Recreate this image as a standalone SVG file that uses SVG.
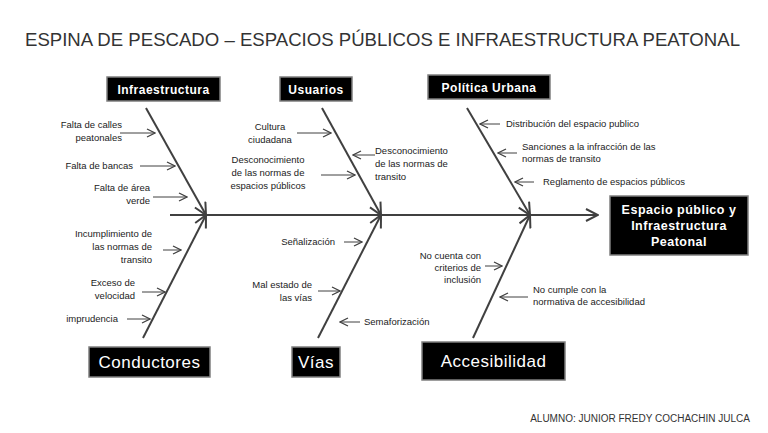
<svg xmlns="http://www.w3.org/2000/svg" width="768" height="433" viewBox="0 0 768 433">
<defs>
<marker id="a" markerWidth="10" markerHeight="10" refX="9" refY="5" orient="auto" markerUnits="userSpaceOnUse"><path d="M1,1 L9,5 L1,9" fill="none" stroke="#404040" stroke-width="1.3"/></marker>
<marker id="b" markerWidth="14" markerHeight="14" refX="13" refY="7" orient="auto" markerUnits="userSpaceOnUse"><path d="M1,1 L13,7 L1,13" fill="none" stroke="#404040" stroke-width="2"/></marker>
</defs>
<style>
.bone{stroke:#404040;stroke-width:2;fill:none}
.s{stroke:#404040;stroke-width:1;fill:none;marker-end:url(#a)}
.box{fill:#000;stroke:#7f7f7f;stroke-width:1.5}
.h{font-family:"Liberation Sans",sans-serif;fill:#fff;font-weight:bold;text-anchor:middle;letter-spacing:0.5px}
.h2{font-family:"Liberation Sans",sans-serif;fill:#fff;text-anchor:middle;letter-spacing:0.5px}
.t{font-family:"Liberation Sans",sans-serif;font-size:9.5px;fill:#222}
.r{text-anchor:end}
</style>
<rect width="768" height="433" fill="#fff"/>
<text x="25" y="46" font-family="Liberation Sans,sans-serif" font-size="19" fill="#333" textLength="715" lengthAdjust="spacingAndGlyphs">ESPINA DE PESCADO – ESPACIOS PÚBLICOS E INFRAESTRUCTURA PEATONAL</text>
<text x="750" y="422" text-anchor="end" font-family="Liberation Sans,sans-serif" font-size="10" fill="#333">ALUMNO: JUNIOR FREDY COCHACHIN JULCA</text>
<g id="connectors">
<line x1="170" y1="215" x2="598" y2="215" class="bone" style="marker-end:url(#b)"/>
<line x1="146" y1="108" x2="206" y2="215" class="bone" style="marker-end:url(#b)"/>
<line x1="322" y1="108" x2="381" y2="215" class="bone" style="marker-end:url(#b)"/>
<line x1="467" y1="108" x2="530" y2="215" class="bone" style="marker-end:url(#b)"/>
<line x1="143" y1="338" x2="206" y2="215" class="bone" style="marker-end:url(#b)"/>
<line x1="318" y1="338" x2="381" y2="215" class="bone" style="marker-end:url(#b)"/>
<line x1="473" y1="338" x2="530" y2="215" class="bone" style="marker-end:url(#b)"/>
<line x1="120" y1="133" x2="155" y2="133" class="s"/>
<line x1="140" y1="166" x2="175" y2="166" class="s"/>
<line x1="153" y1="197" x2="187" y2="197" class="s"/>
<line x1="163" y1="250" x2="181" y2="250" class="s"/>
<line x1="142" y1="292" x2="165" y2="292" class="s"/>
<line x1="127" y1="319" x2="150" y2="319" class="s"/>
<line x1="297" y1="133" x2="331" y2="133" class="s"/>
<line x1="321" y1="175" x2="355" y2="175" class="s"/>
<line x1="375" y1="155" x2="353" y2="155" class="s"/>
<line x1="344" y1="242" x2="362" y2="242" class="s"/>
<line x1="318" y1="291" x2="340" y2="291" class="s"/>
<line x1="360" y1="322" x2="340" y2="322" class="s"/>
<line x1="500" y1="124" x2="480" y2="124" class="s"/>
<line x1="517" y1="153" x2="498" y2="153" class="s"/>
<line x1="534" y1="182" x2="515" y2="182" class="s"/>
<line x1="485" y1="266" x2="502" y2="266" class="s"/>
<line x1="528" y1="297" x2="500" y2="297" class="s"/>
</g>
<g id="infraestructura"><rect x="107" y="77" width="113" height="24" class="box"/><text x="163.5" y="94" class="h" font-size="12">Infraestructura</text></g>
<g id="usuarios"><rect x="280" y="77" width="72" height="24" class="box"/><text x="316" y="94" class="h" font-size="12">Usuarios</text></g>
<g id="politica"><rect x="428" y="75" width="122" height="24" class="box"/><text x="489" y="92" class="h" font-size="12">Política Urbana</text></g>
<g id="conductores"><rect x="89" y="347" width="121" height="30" class="box"/><text x="149.5" y="368" class="h2" font-size="17">Conductores</text></g>
<g id="vias"><rect x="292" y="347" width="48" height="30" class="box"/><text x="316" y="368" class="h2" font-size="17">Vías</text></g>
<g id="accesibilidad"><rect x="422" y="342" width="143" height="38" class="box"/><text x="493.5" y="367" class="h2" font-size="17">Accesibilidad</text></g>
<g id="efecto"><rect x="610" y="196" width="138" height="59" class="box"/><text class="h" font-size="12.5"><tspan x="679" y="214">Espacio público y</tspan><tspan x="679" y="230">Infraestructura</tspan><tspan x="679" y="246">Peatonal</tspan></text></g>
<g id="labels">
<text class="t r"><tspan x="122" y="128">Falta de calles</tspan><tspan x="122" y="141">peatonales</tspan></text>
<text class="t r" x="133" y="169">Falta de bancas</text>
<text class="t r"><tspan x="150" y="191">Falta de área</tspan><tspan x="150" y="204">verde</tspan></text>
<text class="t r"><tspan x="152" y="237">Incumplimiento de</tspan><tspan x="152" y="250">las normas de</tspan><tspan x="152" y="263">transito</tspan></text>
<text class="t r"><tspan x="135" y="286">Exceso de</tspan><tspan x="135" y="299">velocidad</tspan></text>
<text class="t r" x="118" y="322">imprudencia</text>
<text class="t" text-anchor="middle"><tspan x="270" y="130">Cultura</tspan><tspan x="270" y="143">ciudadana</tspan></text>
<text class="t" text-anchor="middle"><tspan x="268" y="163">Desconocimiento</tspan><tspan x="268" y="176">de las normas de</tspan><tspan x="268" y="189">espacios públicos</tspan></text>
<text class="t"><tspan x="375" y="154">Desconocimiento</tspan><tspan x="375" y="167">de las normas de</tspan><tspan x="375" y="180">transito</tspan></text>
<text class="t r" x="335" y="245">Señalización</text>
<text class="t r"><tspan x="312" y="288">Mal estado de</tspan><tspan x="312" y="301">las vías</tspan></text>
<text class="t" x="364" y="325">Semaforización</text>
<text class="t" x="506" y="127">Distribución del espacio publico</text>
<text class="t"><tspan x="522" y="150">Sanciones a la infracción de las</tspan><tspan x="522" y="162">normas de transito</tspan></text>
<text class="t" x="543" y="185">Reglamento de espacios públicos</text>
<text class="t r"><tspan x="481" y="259">No cuenta con</tspan><tspan x="481" y="271">criterios de</tspan><tspan x="481" y="283">inclusión</tspan></text>
<text class="t"><tspan x="533" y="293">No cumple con la</tspan><tspan x="533" y="305">normativa de accesibilidad</tspan></text>
</g>
</svg>
